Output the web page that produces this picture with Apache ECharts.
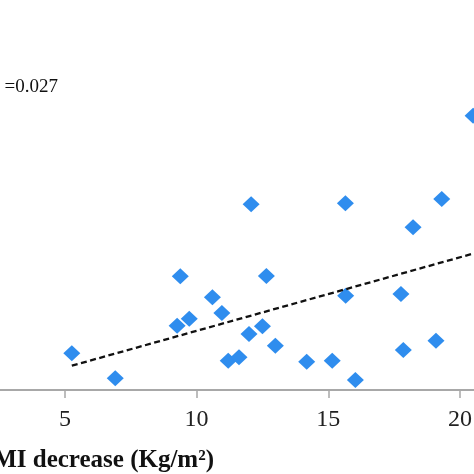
<!DOCTYPE html>
<html>
<head>
<meta charset="utf-8">
<script src="https://cdn.jsdelivr.net/npm/echarts@6/dist/echarts.min.js"></script>
<style>
  html, body {margin: 0; padding: 0; background: #fff;}
  #chart {width: 474px; height: 474px;}
</style>
</head>
<body>
<div id="chart"></div>
<script>
//散点数据 BMI下降值
var bmiDecrease = [5.26, 6.91, 12.07, 9.38, 12.65, 10.60, 10.96, 9.26, 9.72, 11.99, 12.50, 11.20, 11.61,
  12.99, 20.50, 15.65, 19.31, 18.22, 15.66, 17.76, 14.18, 15.15, 16.03, 17.85, 19.09];
var yValues = [3.67, 1.17, 18.57, 11.37, 11.4, 9.27, 7.7, 6.43, 7.13, 5.6, 6.37, 2.93, 3.27,
  4.43, 27.43, 18.67, 19.1, 16.27, 9.43, 9.6, 2.83, 2.93, 1.0, 4.0, 4.93];
//趋势线两端
var trendX = [5.26, 20.5];
var trendY = [2.43, 13.64];
var xTicks = [0, 5, 10, 15, 20, 25];
var r2Text = 'R² =0.027';
var xName = 'BMI decrease (Kg/m²)';

scatter();
function scatter() {
  var mychart = echarts.init(document.getElementById('chart'));
  var points = bmiDecrease.map(function (x, i) {
    return [x, yValues[i]];
  });
  var trend = trendX.map(function (x, i) {
    return [x, trendY[i]];
  });
  var option = {
    animation: false,
    grid: {
      left: -66.7,
      right: -117.6,
      top: 0,
      bottom: 84,
      containLabel: false,
      outerBoundsMode: 'none'
    },
    xAxis: {
      type: 'value',
      min: xTicks[0],
      max: xTicks[xTicks.length - 1],
      interval: 5,
      splitLine: {show: false},
      axisLine: {
        show: true,
        lineStyle: {color: '#a8a8a8', width: 2}
      },
      axisTick: {
        show: true,
        length: 8,
        lineStyle: {color: '#a8a8a8', width: 1.5}
      },
      axisLabel: {
        margin: 18,
        fontFamily: 'Liberation Serif',
        fontSize: 24,
        color: '#222'
      }
    },
    yAxis: {
      type: 'value',
      min: 0,
      max: 39,
      show: false
    },
    series: [{
      //趋势线
      type: 'line',
      data: trend,
      symbol: 'none',
      silent: true,
      lineStyle: {
        color: '#111',
        width: 2.3,
        type: [6, 3.5]
      }
    }, {
      type: 'scatter',
      data: points,
      symbol: 'diamond',
      symbolSize: [17, 16],
      itemStyle: {
        color: '#2f8dee',
        opacity: 1
      }
    }],
    graphic: [{
      type: 'text',
      right: 474 - 58,
      top: 78,
      style: {
        text: r2Text,
        fontFamily: 'Liberation Serif',
        fontSize: 19,
        fill: '#111',
        textAlign: 'right'
      }
    }, {
      type: 'text',
      right: 474 - 214,
      top: 448,
      style: {
        text: xName,
        fontFamily: 'Liberation Serif',
        fontWeight: 'bold',
        fontSize: 25,
        fill: '#111'
      }
    }]
  };
  mychart.setOption(option);
}
</script>
</body>
</html>
